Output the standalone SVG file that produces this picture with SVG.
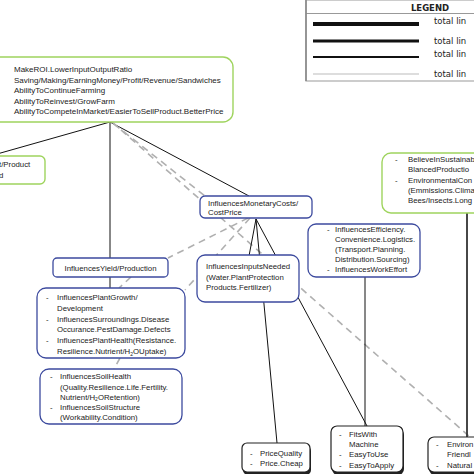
<svg xmlns="http://www.w3.org/2000/svg" width="474" height="474" viewBox="0 0 474 474">
<style>
.t{font-family:"Liberation Sans",Arial,sans-serif;font-size:7.8px;fill:#222}
.tt{font-size:8px}
.g{fill:#fff;stroke:#9fd45e;stroke-width:1.4}
.b{fill:#fff;stroke:#3c4a9e;stroke-width:1.3}
.k{fill:#fff;stroke:#222;stroke-width:1.2}
.sh{fill:#222}
.sl{stroke:#111;stroke-width:1;fill:none}
.dl{stroke:#b0b0b0;stroke-width:1.6;stroke-dasharray:7 5;fill:none}
.lg{font-family:"DejaVu Sans",Verdana,sans-serif;font-size:8.5px;fill:#222}
</style>
<rect width="474" height="474" fill="#fff"/>
<g id="legend">
<rect x="306" y="0" width="180" height="81" fill="#fff" stroke="#aaa" stroke-width="1.2"/>
<line x1="306" y1="13.5" x2="474" y2="13.5" stroke="#999" stroke-width="1"/>
<line x1="306" y1="0" x2="306" y2="81" stroke="#888" stroke-width="1.6"/>
<text x="430" y="10.5" text-anchor="middle" class="lg" font-weight="bold">LEGEND</text>
<line x1="313" y1="24" x2="419" y2="24" stroke="#111" stroke-width="4"/>
<line x1="313" y1="41" x2="419" y2="41" stroke="#111" stroke-width="2.8"/>
<line x1="313" y1="57" x2="419" y2="57" stroke="#111" stroke-width="1.8"/>
<line x1="313" y1="74" x2="419" y2="74" stroke="#bbb" stroke-width="1"/>
<text x="434" y="24" class="lg">total lin</text>
<text x="434" y="44" class="lg">total lin</text>
<text x="434" y="57" class="lg">total lin</text>
<text x="434" y="77" class="lg">total lin</text>
</g>
<g id="connectors">
<line class="sl" x1="110" y1="122" x2="-10" y2="156"/>
<line class="sl" x1="110" y1="122" x2="110" y2="288"/>
<line class="sl" x1="110" y1="122" x2="249" y2="196"/>
<line class="dl" x1="112" y1="122" x2="470" y2="437"/>
<line class="dl" x1="114" y1="124" x2="205" y2="196"/>
<line class="dl" x1="248" y1="218" x2="168" y2="258"/>
<line class="dl" x1="250" y1="218" x2="185" y2="290"/>
<line class="dl" x1="131" y1="277" x2="119" y2="288"/>
<line class="dl" x1="120" y1="358" x2="114" y2="369"/>
<line class="sl" x1="256" y1="219" x2="249" y2="256"/>
<line class="sl" x1="256" y1="219" x2="277" y2="443"/>
<line class="sl" x1="256" y1="219" x2="367" y2="426"/>
<line class="sl" x1="365" y1="277" x2="365" y2="426"/>
<line stroke="#333" stroke-width="1.8" x1="467" y1="212" x2="467" y2="437"/>
</g>
<g id="n-top">
<rect class="g" x="-10" y="57" width="243" height="65" rx="10"/>
<text class="t tt" x="14" y="72">MakeROI.LowerInputOutputRatio</text>
<text class="t tt" x="14" y="82.5">Saving/Making/EarningMoney/Profit/Revenue/Sandwiches</text>
<text class="t tt" x="14" y="93">AbilityToContinueFarming</text>
<text class="t tt" x="14" y="103.5">AbilityToReinvest/GrowFarm</text>
<text class="t tt" x="14" y="114">AbilityToCompeteInMarket/EasierToSellProduct.BetterPrice</text>
</g>
<g id="n-product">
<rect class="g" x="-10" y="156" width="55" height="28" rx="5"/>
<text class="t" x="-1" y="167">t/Product</text>
<text class="t" x="-1" y="178">d</text>
</g>
<g id="n-sustain">
<rect class="g" x="382" y="153" width="110" height="60" rx="9"/>
<text class="t" x="395" y="162">-</text>
<text class="t" x="408" y="162">BelieveInSustainab</text>
<text class="t" x="408" y="172">BlancedProductio</text>
<text class="t" x="395" y="183">-</text>
<text class="t" x="408" y="183">EnvironmentalCon</text>
<text class="t" x="408" y="193">(Emmissions.Clima</text>
<text class="t" x="408" y="203">Bees/Insects.Long</text>
</g>
<g id="n-monetary">
<rect class="b" x="200" y="196" width="112" height="22" rx="5"/>
<text class="t" x="208" y="205.5">InfluencesMonetaryCosts/</text>
<text class="t" x="208" y="215">CostPrice</text>
</g>
<g id="n-efficiency">
<rect class="b" x="308" y="224" width="112" height="53" rx="8"/>
<text class="t" x="327" y="232">-</text>
<text class="t" x="335" y="232">InfluencesEfficiency.</text>
<text class="t" x="335" y="242">Convenience.Logistics.</text>
<text class="t" x="335" y="252">(Transport.Planning.</text>
<text class="t" x="335" y="262">Distribution.Sourcing)</text>
<text class="t" x="327" y="272">-</text>
<text class="t" x="335" y="272">InfluencesWorkEffort</text>
</g>
<g id="n-yield">
<rect class="b" x="53" y="258" width="115" height="19" rx="4"/>
<text class="t" x="110.5" y="270.5" text-anchor="middle">InfluencesYield/Production</text>
</g>
<g id="n-inputs">
<rect class="b" x="197" y="255" width="102" height="47" rx="8"/>
<text class="t" x="206" y="269">InfluencesInputsNeeded</text>
<text class="t" x="206" y="279.5">(Water.PlantProtection</text>
<text class="t" x="206" y="290">Products.Fertilizer)</text>
</g>
<g id="n-plant">
<rect class="b" x="37" y="288" width="148" height="70" rx="9"/>
<text class="t" x="46" y="299.5">-</text>
<text class="t" x="57" y="299.5">InfluencesPlantGrowth/</text>
<text class="t" x="57" y="310.5">Development</text>
<text class="t" x="46" y="321.5">-</text>
<text class="t" x="57" y="321.5">InfluencesSurroundings.Disease</text>
<text class="t" x="57" y="332">Occurance.PestDamage.Defects</text>
<text class="t" x="46" y="343">-</text>
<text class="t" x="57" y="343">InfluencesPlantHealth(Resistance.</text>
<text class="t" x="57" y="354">Resilience.Nutrient/H<tspan font-size="5" dy="1.5">2</tspan><tspan dy="-1.5">OUptake)</tspan></text>
</g>
<g id="n-soil">
<rect class="b" x="40" y="369" width="142" height="55" rx="9"/>
<text class="t" x="50" y="379">-</text>
<text class="t" x="60" y="379">InfluencesSoilHealth</text>
<text class="t" x="60" y="389.5">(Quality.Resilience.Life.Fertility.</text>
<text class="t" x="60" y="399.5">Nutrient/H<tspan font-size="5" dy="1.5">2</tspan><tspan dy="-1.5">ORetention)</tspan></text>
<text class="t" x="50" y="410">-</text>
<text class="t" x="60" y="410">InfluencesSoilStructure</text>
<text class="t" x="60" y="420">(Workability.Condition)</text>
</g>
<g id="n-price">
<rect class="sh" x="243" y="446" width="68" height="29" rx="5"/>
<rect class="k" x="242" y="443" width="68" height="29" rx="5"/>
<text class="t" x="250" y="456">-</text>
<text class="t" x="260" y="456">PriceQuality</text>
<text class="t" x="250" y="466">-</text>
<text class="t" x="260" y="466">Price.Cheap</text>
</g>
<g id="n-fits">
<rect class="sh" x="332" y="429" width="72" height="46" rx="6"/>
<rect class="k" x="331" y="426" width="72" height="46" rx="6"/>
<text class="t" x="339" y="437">-</text>
<text class="t" x="349" y="437">FitsWith</text>
<text class="t" x="349" y="447">Machine</text>
<text class="t" x="339" y="457">-</text>
<text class="t" x="349" y="457">EasyToUse</text>
<text class="t" x="339" y="467.5">-</text>
<text class="t" x="349" y="467.5">EasyToApply</text>
</g>
<g id="n-environ">
<rect class="sh" x="429" y="440" width="60" height="35" rx="6"/>
<rect class="k" x="428" y="437" width="60" height="35" rx="6"/>
<text class="t" x="436" y="447">-</text>
<text class="t" x="447" y="447">Environ</text>
<text class="t" x="447" y="457">Friendl</text>
<text class="t" x="436" y="467.5">-</text>
<text class="t" x="447" y="467.5">Natural</text>
</g>
</svg>
